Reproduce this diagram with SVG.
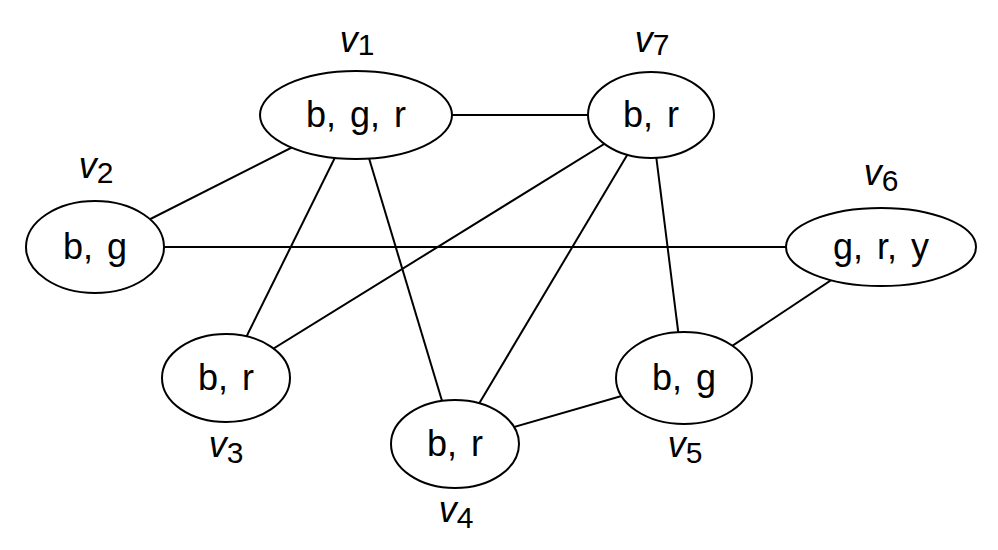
<svg xmlns="http://www.w3.org/2000/svg" width="998" height="550" viewBox="0 0 998 550">
<style>
.n{fill:#fff;stroke:#000;stroke-width:2}
.t{font-family:"Liberation Sans",Arial,sans-serif;font-size:36px;text-anchor:middle;word-spacing:4px}
.l{font-family:"Liberation Sans",Arial,sans-serif;font-size:36px;font-style:italic;text-anchor:middle}
.s{font-style:normal;font-size:30px}
.e{stroke:#000;stroke-width:2;fill:none}
</style>
<rect width="998" height="550" fill="#fff"/>
<g id="edges" class="e">
<line x1="356" y1="115" x2="651" y2="115"/>
<line x1="356" y1="115" x2="95" y2="247"/>
<line x1="356" y1="115" x2="226" y2="378"/>
<line x1="356" y1="115" x2="455" y2="444"/>
<line x1="95" y1="247" x2="881" y2="247"/>
<line x1="651" y1="115" x2="226" y2="378"/>
<line x1="651" y1="115" x2="455" y2="444"/>
<line x1="651" y1="115" x2="684" y2="378"/>
<line x1="881" y1="247" x2="684" y2="378"/>
<line x1="455" y1="444" x2="684" y2="378"/>
</g>
<g id="v1"><ellipse class="n" cx="356" cy="115" rx="96" ry="44"/><text class="t" x="356" y="127">b, g, r</text><text class="l" x="357" y="52">v<tspan class="s" dy="3">1</tspan></text></g>
<g id="v7"><ellipse class="n" cx="651" cy="115" rx="63" ry="43"/><text class="t" x="651" y="127">b, r</text><text class="l" x="652" y="52">v<tspan class="s" dy="3">7</tspan></text></g>
<g id="v2"><ellipse class="n" cx="95" cy="247" rx="69" ry="46"/><text class="t" x="95" y="259">b, g</text><text class="l" x="96" y="178">v<tspan class="s" dy="5">2</tspan></text></g>
<g id="v6"><ellipse class="n" cx="881" cy="247" rx="95" ry="39"/><text class="t" x="881" y="259">g, r, y</text><text class="l" x="881" y="185">v<tspan class="s" dy="6">6</tspan></text></g>
<g id="v3"><ellipse class="n" cx="226" cy="378" rx="64" ry="44"/><text class="t" x="226" y="390">b, r</text><text class="l" x="226" y="457">v<tspan class="s" dy="6">3</tspan></text></g>
<g id="v4"><ellipse class="n" cx="455" cy="444" rx="64" ry="44"/><text class="t" x="455" y="456">b, r</text><text class="l" x="456" y="522">v<tspan class="s" dy="6">4</tspan></text></g>
<g id="v5"><ellipse class="n" cx="684" cy="378" rx="68" ry="46"/><text class="t" x="684" y="390">b, g</text><text class="l" x="685" y="457">v<tspan class="s" dy="6">5</tspan></text></g>
</svg>
